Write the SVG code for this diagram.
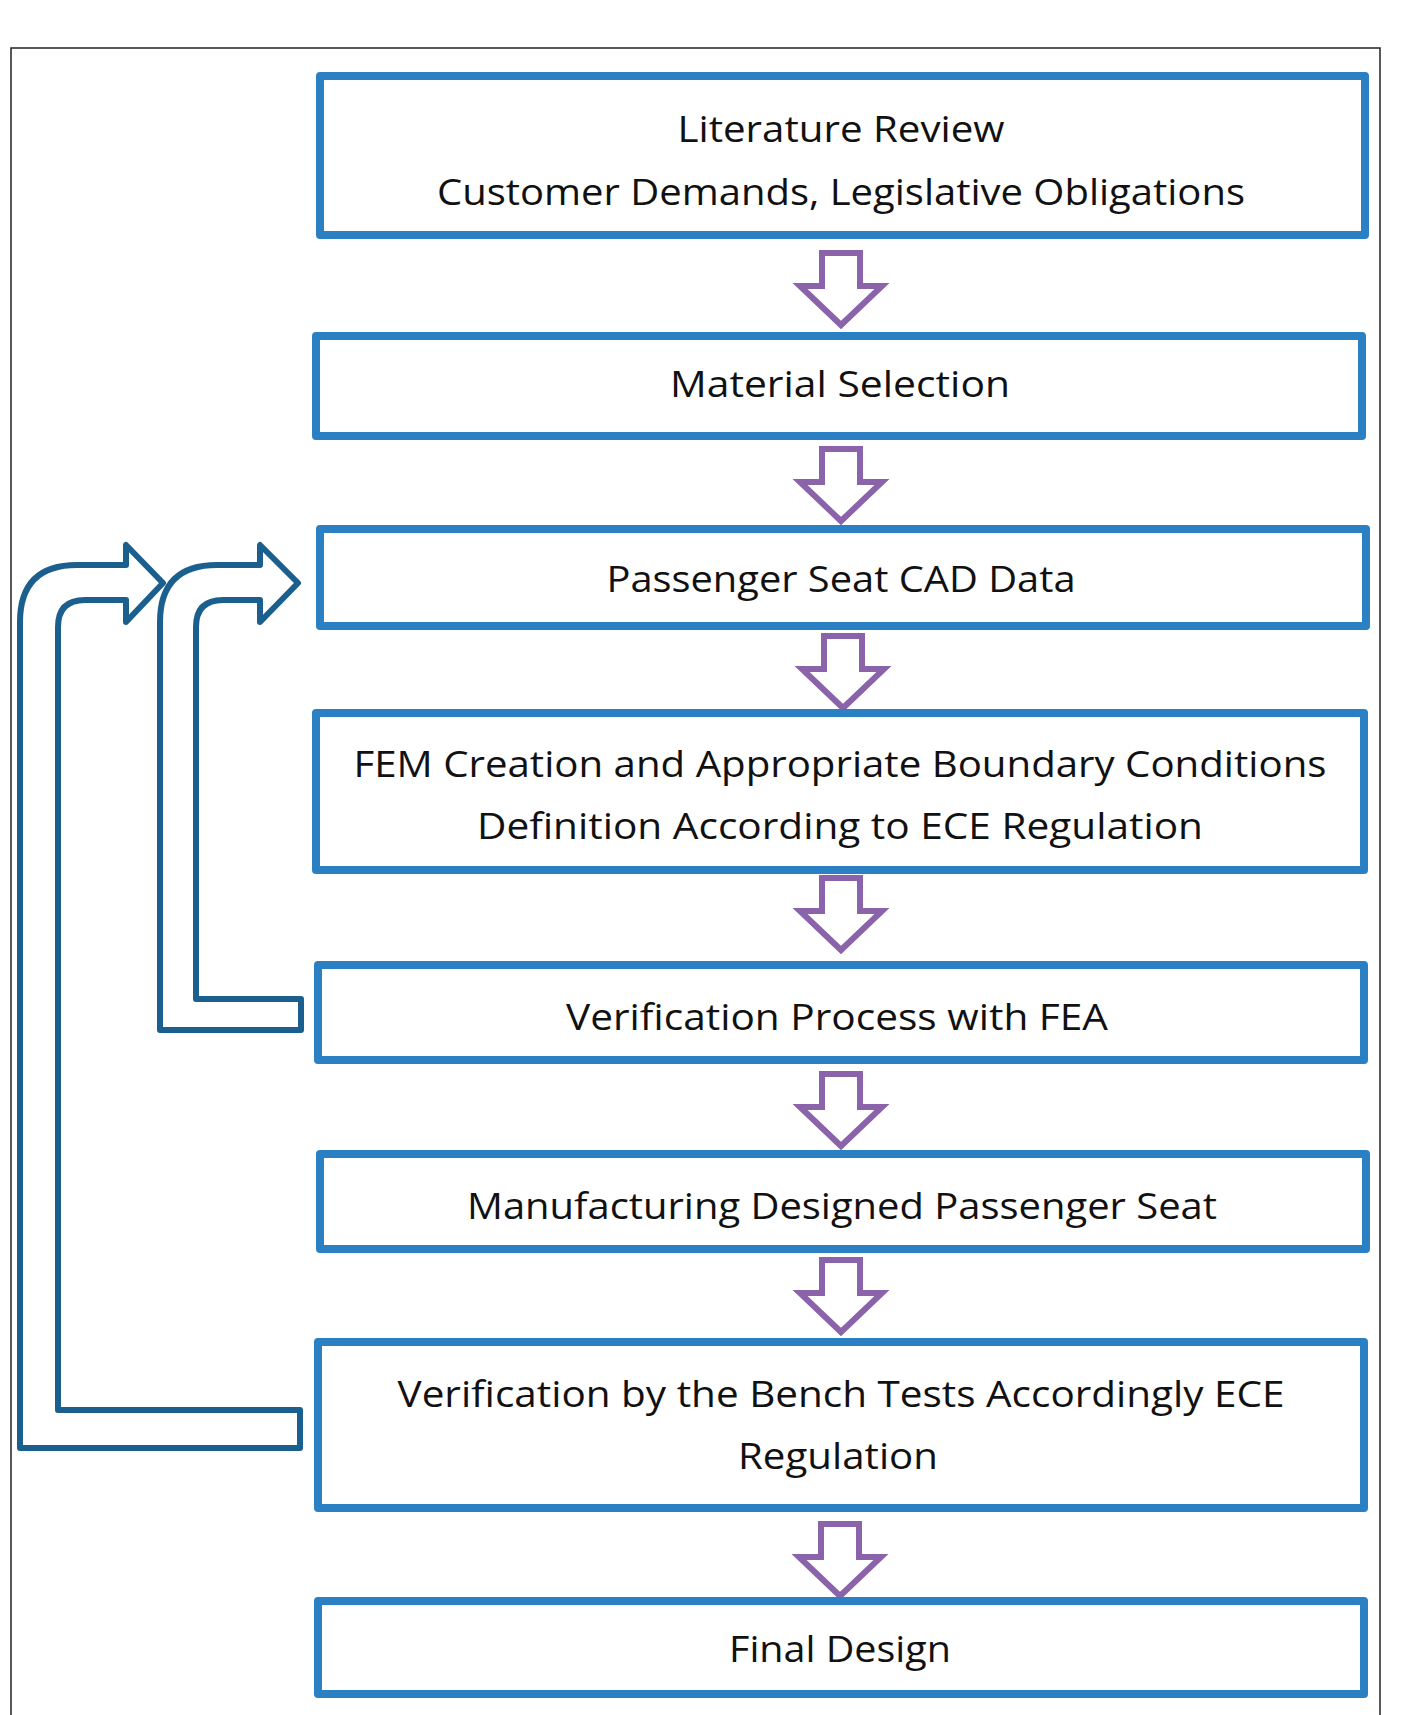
<svg xmlns="http://www.w3.org/2000/svg" xmlns:xlink="http://www.w3.org/1999/xlink" width="1407" height="1715" viewBox="0 0 1407 1715">
<style>
.box{fill:#fff;stroke:#2a80c2;stroke-width:8;stroke-linejoin:round}
.t{font-family:"Open Sans","Liberation Sans",sans-serif;font-size:37px;fill:#111;text-anchor:middle}
.pa{fill:#fff;stroke:#8a63ab;stroke-width:6;stroke-linejoin:miter}
.fb{fill:#fff;stroke:#1b5f8f;stroke-width:6;stroke-linejoin:round}
</style>
<defs>
<polygon id="down" class="pa" points="-19,0 19,0 19,33 41,33 0,72 -41,33 -19,33"/>
</defs>
<rect width="1407" height="1715" fill="#fff"/>
<rect x="11" y="48" width="1369" height="1680" fill="none" stroke="#222" stroke-width="1.5"/>
<g id="connectors">
<use xlink:href="#down" x="841" y="253"/>
<use xlink:href="#down" x="841" y="449"/>
<use xlink:href="#down" x="843" y="636"/>
<use xlink:href="#down" x="841" y="878"/>
<use xlink:href="#down" x="841" y="1074"/>
<use xlink:href="#down" x="841" y="1260"/>
<use xlink:href="#down" x="840" y="1524"/>
<path class="fb" d="M301 999 L196 999 L196 627 Q196 600 223 600 L260 600 L260 622 L298 583 L260 545 L260 565 L217 565 Q160 565 160 622 L160 1030 L301 1030 Z"/>
<path class="fb" d="M300 1410 L58 1410 L58 627 Q58 600 85 600 L126 600 L126 622 L163 583 L126 545 L126 565 L77 565 Q20 565 20 622 L20 1448 L300 1448 Z"/>
</g>
<g id="n1"><rect class="box" x="320" y="76" width="1045" height="159"/>
<text class="t" x="841" y="142" textLength="327" lengthAdjust="spacingAndGlyphs">Literature Review</text>
<text class="t" x="841" y="205" textLength="808" lengthAdjust="spacingAndGlyphs">Customer Demands, Legislative Obligations</text></g>
<g id="n2"><rect class="box" x="316" y="336" width="1046" height="100"/>
<text class="t" x="840" y="397" textLength="340" lengthAdjust="spacingAndGlyphs">Material Selection</text></g>
<g id="n3"><rect class="box" x="320" y="529" width="1046" height="97"/>
<text class="t" x="841" y="592" textLength="469" lengthAdjust="spacingAndGlyphs">Passenger Seat CAD Data</text></g>
<g id="n4"><rect class="box" x="316" y="713" width="1048" height="157"/>
<text class="t" x="840" y="777" textLength="973" lengthAdjust="spacingAndGlyphs">FEM Creation and Appropriate Boundary Conditions</text>
<text class="t" x="840" y="839" textLength="726" lengthAdjust="spacingAndGlyphs">Definition According to ECE Regulation</text></g>
<g id="n5"><rect class="box" x="318" y="965" width="1046" height="95"/>
<text class="t" x="837" y="1030" textLength="542" lengthAdjust="spacingAndGlyphs">Verification Process with FEA</text></g>
<g id="n6"><rect class="box" x="320" y="1154" width="1046" height="95"/>
<text class="t" x="842" y="1219" textLength="750" lengthAdjust="spacingAndGlyphs">Manufacturing Designed Passenger Seat</text></g>
<g id="n7"><rect class="box" x="318" y="1342" width="1046" height="166"/>
<text class="t" x="841" y="1407" textLength="887" lengthAdjust="spacingAndGlyphs">Verification by the Bench Tests Accordingly ECE</text>
<text class="t" x="838" y="1469" textLength="200" lengthAdjust="spacingAndGlyphs">Regulation</text></g>
<g id="n8"><rect class="box" x="318" y="1601" width="1046" height="93"/>
<text class="t" x="840" y="1662" textLength="222" lengthAdjust="spacingAndGlyphs">Final Design</text></g>
</svg>
